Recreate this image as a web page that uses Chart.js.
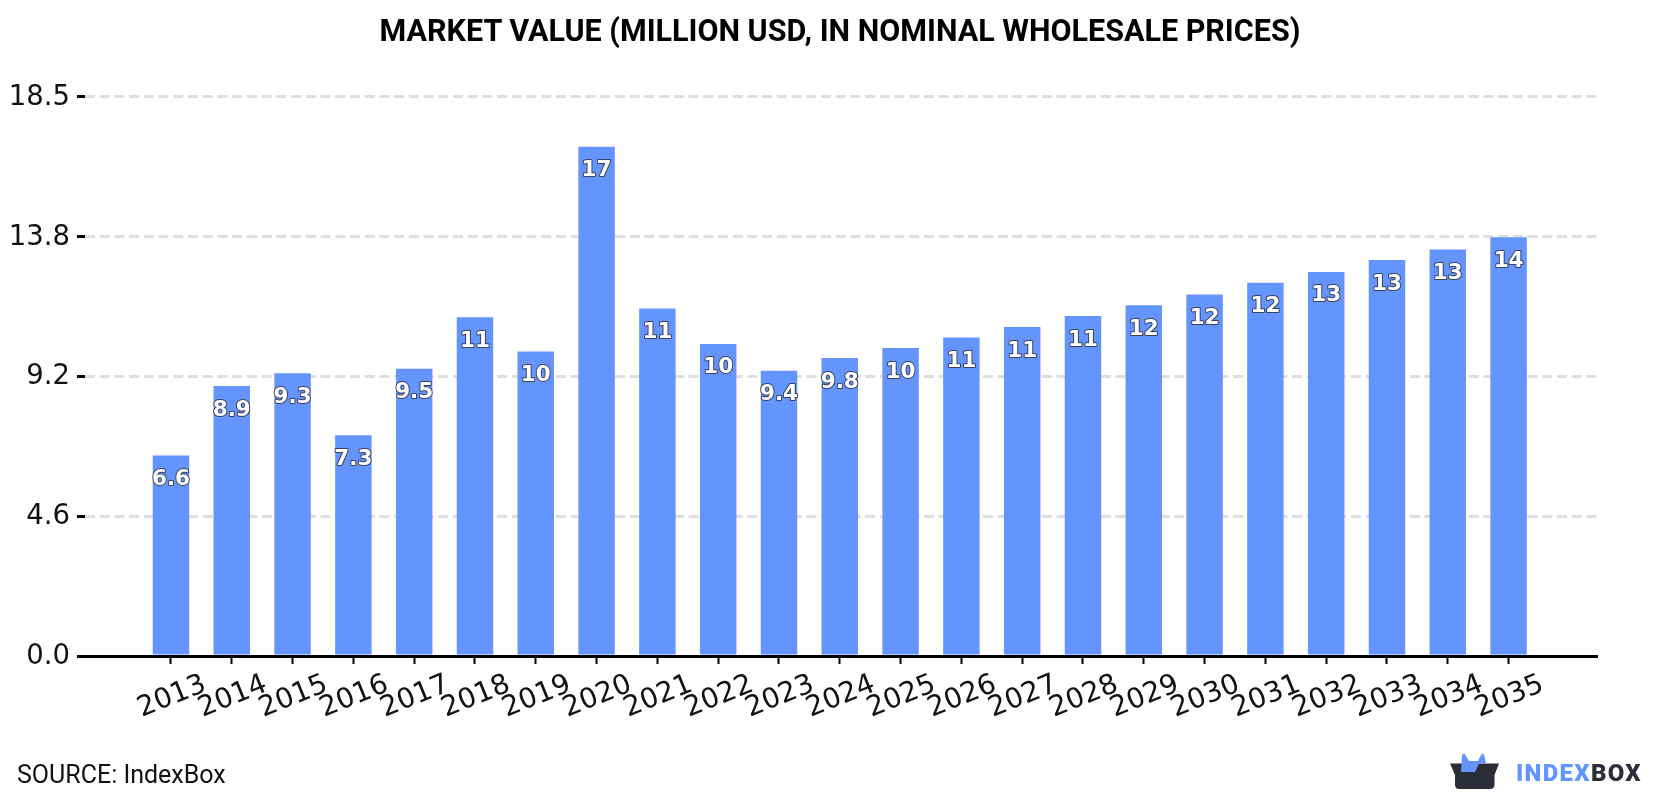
<!DOCTYPE html>
<html>
<head>
<meta charset="utf-8">
<title>Market value</title>
<script src="https://cdn.jsdelivr.net/npm/chart.js@4"></script>
<style>
    html, body { margin: 0; padding: 0; background: #fff; }
    #wrap { position: relative; width: 1680px; height: 800px; overflow: hidden; }
    #heading { position: absolute; left: 0; top: 12px; width: 1680px; text-align: center; font: bold 30.5px Roboto, sans-serif; line-height: 38px; color: #000; }
    #source { position: absolute; left: 17px; top: 761px; font: 25px Roboto, sans-serif; color: #111; line-height: 28px; }
    #logo { position: absolute; left: 1450px; top: 750px; }
    #brand { position: absolute; left: 1516px; top: 759px; font: 900 24px Roboto, sans-serif; line-height: 28px; letter-spacing: 1.3px; color: #2b2d38; }
    #brand span { color: #6495ff; }
</style>
</head>
<body>
<div id="wrap">
    <canvas id="marketChart" width="1680" height="800"></canvas>
    <div id="heading">MARKET VALUE (MILLION USD, IN NOMINAL WHOLESALE PRICES)</div>
    <div id="source">SOURCE: IndexBox</div>
    <svg id="logo" width="50" height="40" viewBox="0 0 50 40">
        <path fill="#2b2d38" d="M0 13.5H49L44.5 25V34.5Q44.5 39 40 39H9.5Q5 39 5 34.5V25Z"/>
        <path fill="#6495ff" d="M11 22L12 6Q13 2 15.5 5L19 11H28L31 5Q33.5 2 34.5 6L36 13.5H29L25 22Z"/>
    </svg>
    <div id="brand"><span>INDEX</span>BOX</div>
</div>
<script>
const years = [2013, 2014, 2015, 2016, 2017, 2018, 2019, 2020, 2021, 2022, 2023, 2024,
    2025, 2026, 2027, 2028, 2029, 2030, 2031, 2032, 2033, 2034, 2035];
const marketValues = [6.63, 8.93, 9.35, 7.3, 9.5, 11.2, 10.07, 16.84, 11.49, 10.32, 9.43, 9.85,
    10.18, 10.53, 10.88, 11.24, 11.6, 11.95, 12.34, 12.7, 13.09, 13.44, 13.85];
// Four equal steps up to the axis maximum, the printed labels are cut to one decimal
const yTicks = [0, 4.625, 9.25, 13.875, 18.5];
const yTickLabels = ['0.0', '4.6', '9.2', '13.8', '18.5'];

// White outlined value inside the top of every bar
const barValueLabels = {
    id: 'barValueLabels',
    afterDatasetsDraw(chart) {
        const ctx = chart.ctx;
        const bars = chart.getDatasetMeta(0).data;
        ctx.save();
        ctx.font = 'bold 21.5px "DejaVu Sans"';
        ctx.textAlign = 'center';
        ctx.textBaseline = 'middle';
        ctx.lineJoin = 'round';
        bars.forEach((bar, i) => {
            const text = marketValues[i].toPrecision(2);
            ctx.lineWidth = 2;
            ctx.strokeStyle = 'rgba(50, 50, 65, 0.85)';
            ctx.strokeText(text, bar.x, bar.y + 24);
            ctx.fillStyle = '#fff';
            ctx.fillText(text, bar.x, bar.y + 24);
        });
        ctx.restore();
    }
};

new Chart(document.getElementById('marketChart'), {
    type: 'bar',
    data: {
        datasets: [{
            data: years.map((year, i) => ({ x: year, y: marketValues[i] })),
            backgroundColor: '#6495ff',
            barPercentage: 0.6,
            categoryPercentage: 1
        }]
    },
    plugins: [barValueLabels],
    options: {
        responsive: false,
        animation: false,
        layout: { padding: { top: 96.5, right: 83 } },
        plugins: {
            legend: { display: false },
            tooltip: { enabled: false }
        },
        scales: {
            x: {
                type: 'linear',
                offset: false,
                min: 2011.586,
                max: 2036.454,
                afterBuildTicks(scale) {
                    scale.ticks = years.map(year => ({ value: year }));
                },
                afterFit(scale) {
                    scale.height = 144;
                },
                border: { color: '#000', width: 3 },
                grid: {
                    offset: false,
                    drawOnChartArea: false,
                    tickColor: '#000',
                    tickLength: 8,
                    tickWidth: 2
                },
                ticks: {
                    autoSkip: false,
                    minRotation: 22,
                    maxRotation: 22,
                    labelOffset: 34,
                    padding: 4,
                    color: '#111',
                    font: { family: 'DejaVu Sans', size: 28 },
                    callback: value => String(value)
                }
            },
            y: {
                min: 0,
                max: 18.5,
                afterBuildTicks(scale) {
                    scale.ticks = yTicks.map(value => ({ value }));
                },
                afterFit(scale) {
                    scale.width = 85;
                },
                border: { display: false, dash: [10, 4.72] },
                grid: {
                    color: ctx => (ctx.tick && ctx.tick.value === 0 ? 'rgba(0, 0, 0, 0)' : '#dedede'),
                    lineWidth: 3,
                    tickColor: '#000',
                    tickLength: 8,
                    tickWidth: 3
                },
                ticks: {
                    padding: 7,
                    labelOffset: 1,
                    color: '#111',
                    font: { family: 'DejaVu Sans', size: 27.5 },
                    callback: (value, index) => yTickLabels[index]
                }
            }
        }
    }
});
</script>
</body>
</html>
